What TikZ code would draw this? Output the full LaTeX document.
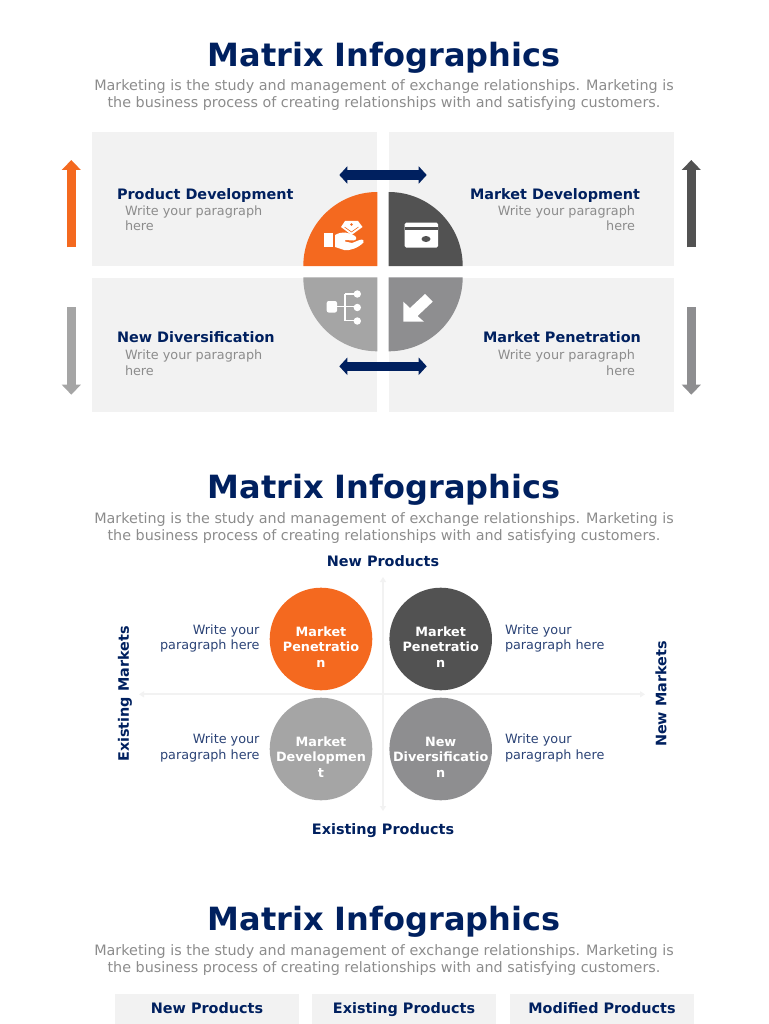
\documentclass[tikz,border=0pt]{standalone}
\usepackage{fontspec}
\setmainfont{DejaVu Sans}
\usetikzlibrary{arrows.meta}
\definecolor{navy}{HTML}{00205F}
\definecolor{paranavy}{HTML}{2B4376}
\definecolor{orange1}{HTML}{F4691F}
\definecolor{dark1}{HTML}{525252}
\definecolor{gray1}{HTML}{A5A5A5}
\definecolor{gray2}{HTML}{8E8E90}
\definecolor{panel}{HTML}{F2F2F2}
\definecolor{desc}{HTML}{8C8C8C}
\tikzset{every node/.style={inner sep=0pt, outer sep=0pt},
  title/.style={anchor=base, font=\fontsize{32}{32}\selectfont\bfseries, text=navy},
  descr/.style={anchor=base, font=\fontsize{14.35}{17}\selectfont, text=desc},
  head/.style={anchor=base, font=\fontsize{14.4}{17}\selectfont\bfseries, text=navy},
  para/.style={anchor=base west, font=\fontsize{12.8}{15.5}\selectfont, text=desc, align=left},
  parar/.style={anchor=base east, font=\fontsize{12.8}{15.5}\selectfont, text=desc, align=right},
  side/.style={font=\fontsize{12.8}{15.5}\selectfont, text=paranavy},
  circ/.style={circle, minimum size=102.6pt},
  circtext/.style={yshift=-8pt, font=\fontsize{12.8}{15.5}\selectfont\bfseries, text=white, align=center},
  tile/.style={fill=panel, minimum width=285pt, minimum height=134pt},
  tab/.style={fill=panel, minimum width=184.5pt, minimum height=30pt, text height=11pt, text depth=3pt, font=\fontsize{14.4}{17}\selectfont\bfseries, text=navy},
  block/.style={line width=9.5pt, -{Triangle[length=10pt,width=18.5pt]}},
  hblock/.style={line width=9.5pt, navy, {Triangle[length=8pt,width=17pt]}-{Triangle[length=8pt,width=17pt]}},
  axis/.style={line width=2pt, panel, {Triangle[length=5pt,width=6pt]}-{Triangle[length=5pt,width=6pt]}}}

\begin{document}
\begin{tikzpicture}[x=1pt,y=-1pt]
  \useasboundingbox (0,0) rectangle (768,1024);
  % heading, three times
  \foreach \i/\y in {a/0,b/432,c/864}{
    \node[title] (title\i) at (384,66.4+\y) {Matrix Infographics};
    \node[descr] (desc\i) at (384,91+\y) {Marketing is the study and management of exchange relationships. Marketing is};
    \node[descr] (descb\i) at (384,108+\y) {the business process of creating relationships with and satisfying customers.};
  }
  % first matrix
  \node[tile] (tl) at (234.5,199) {};
  \node[tile] (tr) at (531.5,199) {};
  \node[tile] (bl) at (234.5,344.5) {};
  \node[tile] (br) at (531.5,344.5) {};
  \fill[orange1] (377.3,266) -- (303.3,266) arc (180:270:74) -- cycle;
  \fill[dark1] (388.7,266) -- (388.7,192) arc (270:360:74) -- cycle;
  \fill[gray1] (377.3,277.3) -- (377.3,351.3) arc (90:180:74) -- cycle;
  \fill[gray2] (388.7,277.3) -- (462.7,277.3) arc (0:90:74) -- cycle;
  \coordinate (ua) at (71.3,247.3); \coordinate (ub) at (71.3,160);
  \coordinate (va) at (691.3,247.3); \coordinate (vb) at (691.3,160);
  \coordinate (wa) at (71.3,307.3); \coordinate (wb) at (71.3,394.7);
  \coordinate (xa) at (691.3,307.3); \coordinate (xb) at (691.3,394.7);
  \coordinate (ya) at (339.3,175); \coordinate (yb) at (426.7,175);
  \coordinate (za) at (339.3,366.3); \coordinate (zb) at (426.7,366.3);
  \draw[block,orange1] (ua) -- (ub);
  \draw[block,dark1] (va) -- (vb);
  \draw[block,gray1] (wa) -- (wb);
  \draw[block,gray2] (xa) -- (xb);
  \draw[hblock] (ya) -- (yb);
  \draw[hblock] (za) -- (zb);
  % diamond in hand
  \fill[white] (345,221) -- (358,221) -- (362.5,227) -- (351.5,235) -- (341,227) -- cycle;
  \fill[orange1] (351.5,224.5) circle (1.4);
  \draw[orange1,line width=0.6pt] (344.5,227) -- (351.5,232) -- (358.5,227);
  \fill[white] (324,232.7) rectangle (333.3,247.3);
  \fill[white] (335,235) .. controls (342,231) and (348,232) .. (355,236) .. controls (357.5,238) and (356,240.5) .. (353,240.5) -- (345,240) -- (345,241.5) -- (352,243) -- (360,239.8) .. controls (363,239) and (365,241) .. (363.5,242.5) .. controls (358,248) and (350,251) .. (344,250) .. controls (341,249.5) and (338,247.5) .. (335,247) -- cycle;
  % card
  \fill[white,rounded corners=1.5pt] (404.7,222.7) rectangle (438,247.7);
  \fill[dark1] (404.7,226.7) rectangle (438,229.7);
  \fill[dark1] (426,239) ellipse (4.5 and 3);
  % tree
  \fill[white,rounded corners=2pt] (326.7,301) rectangle (337,312.5);
  \draw[white,line width=1.5pt] (337,306.7) -- (357,306.7) (345,294) -- (345,320.5) (345,294) -- (357,294) (345,320.5) -- (357,320.5);
  \foreach \y in {294,307.5,321}{\fill[white] (357.3,\y) circle (3.7);}
  % arrow
  \fill[white] (403.3,321.7) -- (403.3,301.7) -- (410,308) -- (425,294) -- (432.7,301.7) -- (417.5,316) -- (424,321.7) -- cycle;
  \node[head,anchor=base west] (pd) at (117,200) {Product Development};
  \node[para] (pdt) at (125,231) {Write your paragraph\\here};
  \node[head,anchor=base east] (md) at (640,200) {Market Development};
  \node[parar] (mdt) at (635,231) {Write your paragraph\\here};
  \node[head,anchor=base west] (nd) at (117,342.5) {New Diversification};
  \node[para] (ndt) at (125,375) {Write your paragraph\\here};
  \node[head,anchor=base east] (mp) at (641,342.5) {Market Penetration};
  \node[parar] (mpt) at (635,375) {Write your paragraph\\here};
  % second matrix
  \coordinate (hl) at (139,694.3); \coordinate (hr) at (645,694.3);
  \coordinate (vt) at (383,577); \coordinate (vd) at (383,811);
  \draw[axis] (hl) -- (hr);
  \draw[axis] (vt) -- (vd);
  \node[circ,fill=orange1] (c1) at (321,639) {};
  \node[circ,fill=dark1] (c2) at (440.7,639) {};
  \node[circ,fill=gray1] (c3) at (321,749) {};
  \node[circ,fill=gray2] (c4) at (440.7,749) {};
  \node[circtext] (c1t) at (c1) {Market\\Penetratio\\n};
  \node[circtext] (c2t) at (c2) {Market\\Penetratio\\n};
  \node[circtext] (c3t) at (c3) {Market\\Developmen\\t};
  \node[circtext] (c4t) at (c4) {New\\Diversificatio\\n};
  \node[side,anchor=east,align=right] (s1) at (259.5,638.5) {Write your\\paragraph here};
  \node[side,anchor=west,align=left] (s2) at (505,638.5) {Write your\\paragraph here};
  \node[side,anchor=east,align=right] (s3) at (259.5,748) {Write your\\paragraph here};
  \node[side,anchor=west,align=left] (s4) at (505,748) {Write your\\paragraph here};
  \node[head] (np) at (383,566) {New Products};
  \node[head] (ep) at (383,834) {Existing Products};
  \node[head,anchor=center,rotate=90] (em) at (125,694) {Existing Markets};
  \node[head,anchor=center,rotate=90] (nm) at (661,694) {New Markets};
  % third matrix, cut by the page
  \node[tab] (t1) at (207,1009) {New Products};
  \node[tab] (t2) at (404,1009) {Existing Products};
  \node[tab] (t3) at (602,1009) {Modified Products};
\end{tikzpicture}
\end{document}
